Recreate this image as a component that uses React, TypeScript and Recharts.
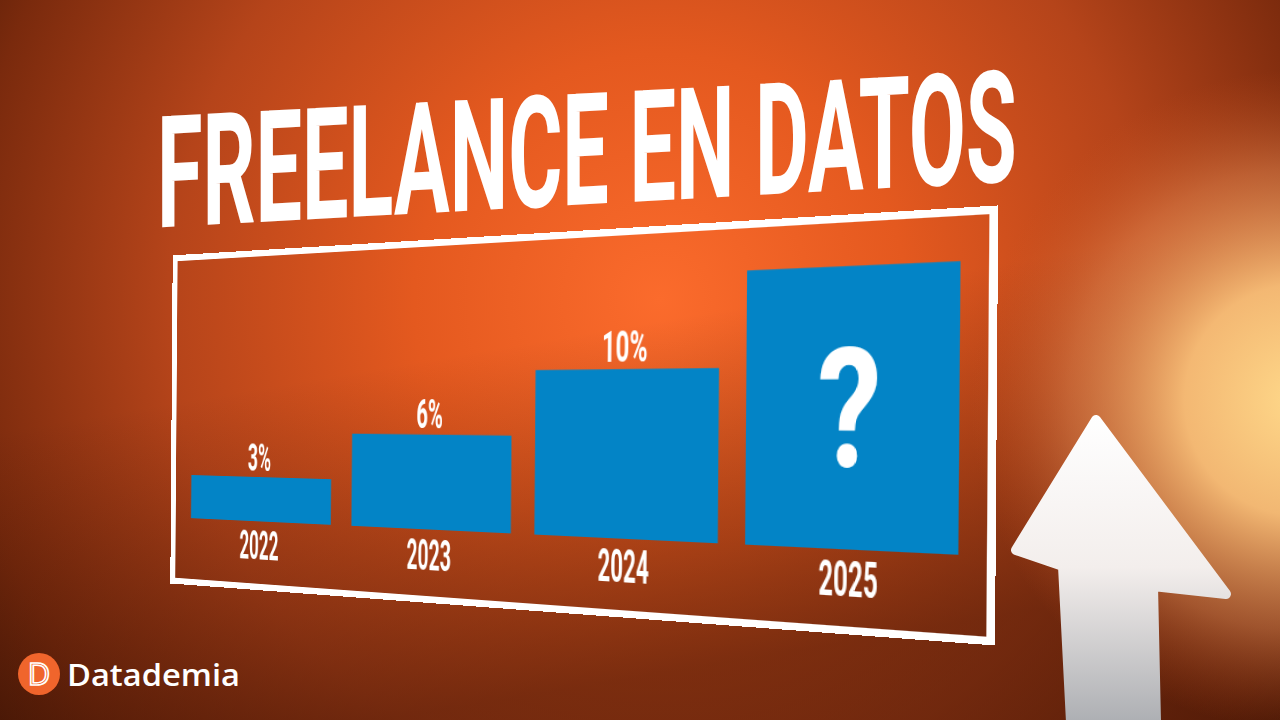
import React from "react";
import { Bar, BarChart, LabelList, XAxis, YAxis } from "recharts";

// datos del gráfico
const years = ["2022", "2023", "2024", "2025"];
const shares = [3, 6, 10, 15.5];
const shareLabels = ["3%", "6%", "10%", "?"];

const title = "FREELANCE EN DATOS";
const brand = "Datademia";

const chartData = years.map((year, i) => ({
  year,
  share: shares[i],
  label: shareLabels[i],
}));

const BAR_BLUE = "#0384C6";
const FONT = "Roboto, 'Liberation Sans', sans-serif";

function YearTick(props: any) {
  const { x, y, payload } = props;
  return (
    <text
      x={x}
      y={y + 42}
      textAnchor="middle"
      fill="#ffffff"
      fontFamily={FONT}
      fontWeight={700}
      fontSize={44}
      textLength={52}
      lengthAdjust="spacingAndGlyphs"
    >
      {payload.value}
    </text>
  );
}

function ShareLabel(props: any) {
  const { x, y, width, height, value } = props;
  const cx = Number(x) + Number(width) / 2;
  if (value === "?") {
    // el valor desconocido va dentro de la barra
    return (
      <text
        x={cx}
        y={Number(y) + Number(height) / 2 + 53}
        textAnchor="middle"
        fill="#ffffff"
        fontFamily={FONT}
        fontWeight={700}
        fontSize={150}
        textLength={56}
        lengthAdjust="spacingAndGlyphs"
      >
        {value}
      </text>
    );
  }
  return (
    <text
      x={cx}
      y={Number(y) - 7}
      textAnchor="middle"
      fill="#ffffff"
      fontFamily={FONT}
      fontWeight={700}
      fontSize={43}
      textLength={String(value).length * 15.5}
      lengthAdjust="spacingAndGlyphs"
    >
      {value}
    </text>
  );
}

function Backdrop() {
  return (
    <svg
      width={1280}
      height={720}
      style={{ position: "absolute", left: 0, top: 0 }}
    >
      <defs>
        <radialGradient id="bg" cx="660" cy="300" r="820" gradientUnits="userSpaceOnUse">
          <stop offset="0" stopColor="#FB6B2C" />
          <stop offset="0.3" stopColor="#E4591F" />
          <stop offset="0.6" stopColor="#B5441A" />
          <stop offset="0.85" stopColor="#7A2A0D" />
          <stop offset="1" stopColor="#4A1906" />
        </radialGradient>
        <radialGradient id="glow" cx="1300" cy="400" r="330" gradientUnits="userSpaceOnUse">
          <stop offset="0" stopColor="#FFD98A" stopOpacity={1} />
          <stop offset="0.35" stopColor="#F9BF78" stopOpacity={0.95} />
          <stop offset="0.7" stopColor="#E58A52" stopOpacity={0.5} />
          <stop offset="1" stopColor="#C4501F" stopOpacity={0} />
        </radialGradient>
        <linearGradient id="shade" x1="0" y1="0" x2="0.3" y2="1">
          <stop offset="0.55" stopColor="#3A1204" stopOpacity={0} />
          <stop offset="1" stopColor="#3A1204" stopOpacity={0.55} />
        </linearGradient>
        <linearGradient id="arrow" x1="0" y1="415" x2="0" y2="720" gradientUnits="userSpaceOnUse">
          <stop offset="0" stopColor="#FFFFFF" />
          <stop offset="0.5" stopColor="#F3EEEC" />
          <stop offset="1" stopColor="#AEB0B4" />
        </linearGradient>
      </defs>
      <rect x={0} y={0} width={1280} height={720} fill="url(#bg)" />
      <rect x={0} y={0} width={1280} height={720} fill="url(#shade)" />
      <rect x={0} y={0} width={1280} height={720} fill="url(#glow)" />

      {/* título condensado e inclinado */}
      <g transform="skewY(-3.1) translate(157,236) scale(0.534,1)">
        <text
          x={0}
          y={0}
          fill="#ffffff"
          fontFamily={FONT}
          fontWeight={700}
          fontSize={156}
          textLength={1610}
          lengthAdjust="spacingAndGlyphs"
        >
          {title}
        </text>
      </g>

      <polygon
        points="1096,420 1016,550 1063,566 1071,722 1156,722 1153,586 1226,594"
        fill="url(#arrow)"
        stroke="url(#arrow)"
        strokeWidth={10}
        strokeLinejoin="round"
      />

      <circle cx={39} cy={674} r={21} fill="#F0652C" />
      <text
        x={39}
        y={685}
        textAnchor="middle"
        fill="#F0652C"
        stroke="#ffffff"
        strokeWidth={1.6}
        fontFamily="'Open Sans', sans-serif"
        fontWeight={400}
        fontSize={31}
      >
        D
      </text>
      <text
        x={67}
        y={686}
        fill="#ffffff"
        fontFamily="'Open Sans', sans-serif"
        fontWeight={600}
        fontSize={31}
        textLength={173}
        lengthAdjust="spacingAndGlyphs"
      >
        {brand}
      </text>
    </svg>
  );
}

export default function App() {
  return (
    <div
      style={{
        position: "absolute",
        left: 0,
        top: 0,
        width: 1280,
        height: 720,
        overflow: "hidden",
      }}
    >
      <Backdrop />
      <div
        style={{
          position: "absolute",
          left: 84,
          top: 234,
          width: 880,
          height: 376,
          boxSizing: "border-box",
          border: "7px solid #ffffff",
          transformOrigin: "50% 50%",
          transform: "rotate(0.42deg) perspective(1200px) rotateY(-23.4deg)",
        }}
      >
        <BarChart
          width={866}
          height={362}
          data={chartData}
          margin={{ top: 31, right: 10, left: 9, bottom: 0 }}
          barCategoryGap="6%"
        >
          <XAxis
            dataKey="year"
            axisLine={false}
            tickLine={false}
            tickSize={0}
            tickMargin={0}
            height={69}
            interval={0}
            tick={<YearTick />}
          />
          <YAxis hide domain={[0, 16]} />
          <Bar dataKey="share" fill={BAR_BLUE} isAnimationActive={false}>
            <LabelList dataKey="label" content={<ShareLabel />} />
          </Bar>
        </BarChart>
      </div>
    </div>
  );
}
